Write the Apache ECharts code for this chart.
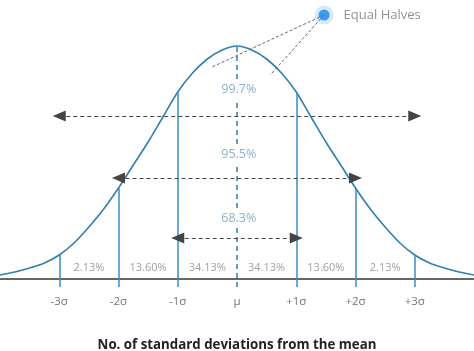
<!DOCTYPE html>
<html>
<head>
<meta charset="utf-8">
<script src="https://cdn.jsdelivr.net/npm/echarts@6/dist/echarts.min.js"></script>
<style>
  html, body { margin: 0; padding: 0; background: #fff; }
  #main { width: 474px; height: 351px; }
</style>
</head>
<body>
<div id="main"></div>
<script>
// curve (x in sigma units, height in px above the baseline)
var curveX = [-4, -3.75, -3.5, -3.25, -3, -2.75, -2.5, -2.25, -2, -1.75, -1.5, -1.25, -1, -0.75, -0.5, -0.25, 0,
              0.25, 0.5, 0.75, 1, 1.25, 1.5, 1.75, 2, 2.25, 2.5, 2.75, 3, 3.25, 3.5, 3.75, 4];
var curveY = [4, 7, 11, 16, 24, 36, 52, 70, 91, 114, 137, 162, 187, 206, 220, 229, 233,
              229, 220, 206, 187, 162, 137, 114, 91, 70, 52, 36, 24, 16, 11, 7, 4];

// vertical lines at the sigma marks
var sigmaX = [-3, -2, -1, 1, 2, 3];
var sigmaTop = [24, 91, 187, 187, 91, 24];

// band percentages between the lines
var bandX = [-2.5, -1.5, -0.5, 0.5, 1.5, 2.5];
var bandLabels = ['2.13%', '13.60%', '34.13%', '34.13%', '13.60%', '2.13%'];

// ranges: half width in sigma, arrow height, label height
var rangeLabels = ['68.3%', '95.5%', '99.7%'];
var rangeHalf = [1, 2, 3];
var rangeArrowY = [41, 101, 163];
var rangeLabelY = [61, 125, 190];

var tickLabels = {'-3': '-3σ', '-2': '-2σ', '-1': '-1σ', '0': 'μ', '1': '+1σ', '2': '+2σ', '3': '+3σ'};

// "Equal Halves" marker and where its pointers end
var halvesDot = [1.47, 264];
var halvesEnds = [[-0.42, 212], [0.56, 204]];

var FONT = '"Open Sans", sans-serif';
var myChart = echarts.init(document.getElementById('main'));

var curveData = curveX.map(function (x, i) { return [x, curveY[i]]; });

var sigmaLines = sigmaX.map(function (x, i) {
    return [{coord: [x, -8]}, {coord: [x, sigmaTop[i]]}];
});

var arrowLines = rangeHalf.map(function (h, i) {
    return [{coord: [-h, rangeArrowY[i]]}, {coord: [h, rangeArrowY[i]]}];
});

var pointerLines = halvesEnds.map(function (p) {
    return [{coord: halvesDot.slice()}, {coord: p}];
});

// mean line, broken where the range labels sit
var meanLines = [];
var segStart = -8;
rangeLabelY.forEach(function (y) {
    meanLines.push([{coord: [0, segStart]}, {coord: [0, y - 10]}]);
    segStart = y + 10;
});
meanLines.push([{coord: [0, segStart]}, {coord: [0, curveY[16]]}]);

function textPoints(xsArr, ysArr, labels) {
    return labels.map(function (t, i) {
        return {value: [xsArr[i], ysArr[i]], name: t};
    });
}

option = {
    animation: false,
    grid: { left: 0, right: 0, top: 0, bottom: 62, containLabel: false, outerBoundsMode: 'none' },
    xAxis: {
        type: 'value',
        min: -4,
        max: 4,
        interval: 1,
        splitLine: { show: false },
        axisTick: { show: false },
        axisLine: { onZero: true, lineStyle: { color: '#333', width: 1.5 } },
        axisLabel: {
            margin: 7,
            color: '#777',
            fontSize: 11.5,
            fontFamily: FONT,
            formatter: function (v) { return tickLabels[String(v)] || ''; }
        },
        name: 'No. of standard deviations from the mean',
        nameLocation: 'center',
        nameGap: 50,
        nameTextStyle: { color: '#222', fontSize: 13.3, fontWeight: 'bold', fontFamily: FONT }
    },
    yAxis: {
        type: 'value',
        min: -10,
        max: 279,
        show: false
    },
    series: [
        {
            name: 'curve',
            type: 'line',
            data: curveData,
            smooth: 0.3,
            symbol: 'none',
            lineStyle: { color: '#2f7fb0', width: 1.6 },
            z: 3
        },
        {
            name: 'sigma',
            type: 'line',
            data: [],
            markLine: {
                silent: true,
                symbol: ['none', 'none'],
                label: { show: false },
                lineStyle: { color: '#3a8cc2', width: 1.5, type: 'solid' },
                data: sigmaLines
            }
        },
        {
            name: 'mean',
            type: 'line',
            data: [],
            markLine: {
                silent: true,
                symbol: ['none', 'none'],
                label: { show: false },
                lineStyle: { color: '#2e8098', width: 1.5, type: [5, 4] },
                data: meanLines
            }
        },
        {
            name: 'ranges',
            type: 'line',
            data: [],
            markLine: {
                silent: true,
                symbol: ['triangle', 'triangle'],
                symbolSize: [11, 13],
                label: { show: false },
                lineStyle: { color: '#444', width: 1, type: [4, 3] },
                itemStyle: { color: '#444' },
                data: arrowLines
            }
        },
        {
            name: 'pointers',
            type: 'line',
            data: [],
            markLine: {
                silent: true,
                symbol: ['none', 'none'],
                label: { show: false },
                lineStyle: { color: '#666', width: 1, type: [3, 2] },
                data: pointerLines
            }
        },
        {
            name: 'rangeText',
            type: 'scatter',
            symbolSize: 1,
            itemStyle: { color: 'rgba(0,0,0,0)' },
            data: textPoints([0.03, 0.03, 0.03], rangeLabelY, rangeLabels),
            label: {
                show: true,
                position: 'inside',
                formatter: '{b}',
                color: '#6d9fb8',
                fontSize: 12.5,
                fontFamily: FONT
            },
            z: 5
        },
        {
            name: 'bandText',
            type: 'scatter',
            symbolSize: 1,
            itemStyle: { color: 'rgba(0,0,0,0)' },
            data: textPoints(bandX, [11, 11, 11, 11, 11, 11], bandLabels),
            label: {
                show: true,
                position: 'inside',
                formatter: '{b}',
                color: '#888',
                fontSize: 11,
                fontFamily: FONT
            },
            z: 5
        },
        {
            name: 'halo',
            type: 'scatter',
            symbolSize: 19,
            itemStyle: { color: 'rgba(30,136,229,0.22)' },
            data: [halvesDot],
            z: 6
        },
        {
            name: 'Equal Halves',
            type: 'scatter',
            symbolSize: 11,
            itemStyle: { color: '#1a86e8' },
            data: [halvesDot],
            label: {
                show: true,
                position: 'right',
                distance: 14,
                formatter: 'Equal Halves',
                color: '#777',
                fontSize: 13,
                fontFamily: FONT
            },
            z: 7
        }
    ]
};

myChart.setOption(option);
</script>
</body>
</html>
